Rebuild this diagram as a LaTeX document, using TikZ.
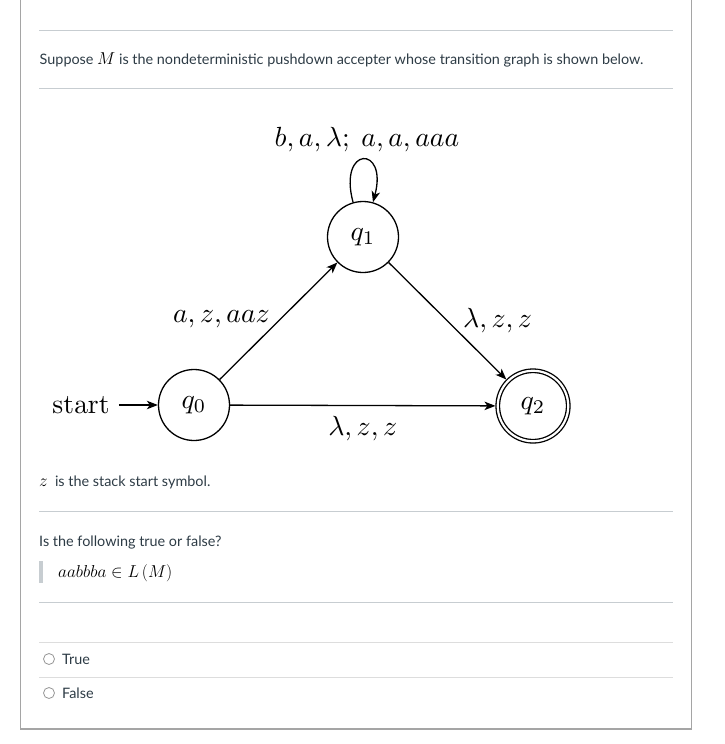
\documentclass[tikz,border=0pt]{standalone}
\usepackage{amsmath}
\usepackage[no-math]{fontspec}
\setmainfont{Lato}
\usetikzlibrary{arrows.meta,positioning}
\definecolor{bodytext}{RGB}{45,59,69}
\definecolor{rulegray}{RGB}{199,205,209}
\definecolor{rulelight}{RGB}{221,221,221}
\definecolor{framegray}{RGB}{165,165,165}
\definecolor{radiogray}{RGB}{150,150,150}
\newcommand{\dg}[1]{\scalebox{2.77}{#1}}
\newcommand{\mth}[1]{{\color{black}\fontsize{17.28}{20}\selectfont$#1$}}
\tikzset{
  state/.style={
    draw,
    circle,
    line width=1.3pt,
    minimum size=71pt,
    inner sep=0pt
  },
  accept/.style={state, double, double distance=2.2pt, minimum size=70.5pt, outer sep=2.3pt},
  trans/.style={-{Stealth[length=11pt,width=8.5pt,inset=3pt]}, line width=1.3pt},
  lbl/.style={inner sep=0pt},
  para/.style={anchor=base west, inner sep=0pt, font=\fontsize{14.4}{17}\selectfont, text=bodytext},
  sep/.style={rulegray, line width=1pt},
  radio/.style={draw=radiogray, circle, line width=0.8pt, minimum size=11pt, inner sep=0pt}
}

\begin{document}
\begin{tikzpicture}[x=1pt, y=-1pt]
  \useasboundingbox (0,0) rectangle (725,744);
  % frame and rules
  \draw[framegray, line width=1.2pt] (20.7,0) -- (20.7,729) -- (691.3,729) -- (691.3,0);
  \draw[sep] (39,30) -- (672.7,30);
  \draw[sep] (39,88) -- (672.7,88);
  \draw[sep] (39,511.7) -- (672.7,511.7);
  \draw[sep] (39,602) -- (672.7,602);
  \draw[sep, rulelight] (39,642) -- (672.7,642);
  \draw[sep, rulelight] (39,677) -- (672.7,677);

  \node[para] (intro) at (39.5,64) {Suppose \mth{M} is the nondeterministic pushdown accepter whose transition graph is shown below.};

  % transition graph
  \node[state] (q0) at (194,405) {\dg{$q_0$}};
  \node[state] (q1) at (363,237) {\dg{$q_1$}};
  \node[accept] (q2) at (533,406) {\dg{$q_2$}};
  \node[lbl, left=48pt of q0] (start) {\dg{$\mathrm{start}$}};

  \draw[trans, shorten <=9pt] (start) -- (q0);
  \draw[trans] (q0) -- node[lbl, anchor=east, xshift=-8pt, yshift=2pt] (l01) {\dg{$a, z, aaz$}} (q1);
  \draw[trans] (q1) -- node[lbl, anchor=west, xshift=15pt] (l12) {\dg{$\lambda, z, z$}} (q2);
  \draw[trans] (q0) -- node[lbl, below=10pt] (l02) {\dg{$\lambda, z, z$}} (q2);
  \draw[trans] (q1.106) .. controls +(105:59pt) and +(75:59pt) .. node[lbl, above=7pt, xshift=4pt] (l11) {\dg{$b, a, \lambda;\ a, a, aaa$}} (q1.74);

  % question
  \node[para] (stack) at (39,486.7) {\mth{z}\hspace{0.5em}is the stack start symbol.};
  \node[para] (ask) at (39,546) {Is the following true or false?};
  \fill[rulegray] (39,561) rectangle (43,583);
  \node[para] (expr) at (58,577) {\mth{aabbba \in L\left(M\right)}};

  \node[radio] (rtrue) at (49,659) {};
  \node[para] (ttrue) at (62,664) {True};
  \node[radio] (rfalse) at (49,693) {};
  \node[para] (tfalse) at (62,698) {False};
\end{tikzpicture}
\end{document}
